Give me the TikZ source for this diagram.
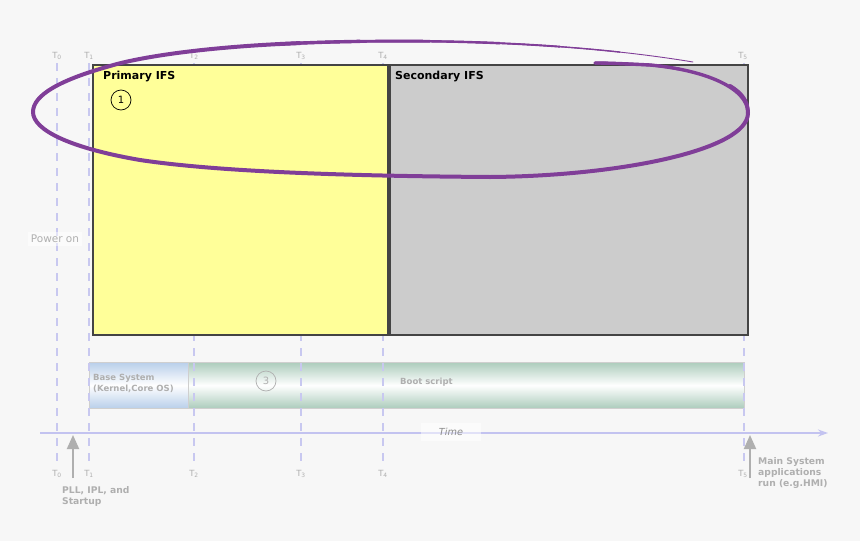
\documentclass[tikz,border=0pt]{standalone}
\usepackage{fontspec}
\setmainfont{DejaVu Sans}
\usetikzlibrary{arrows.meta}
\definecolor{bg}{RGB}{247,247,247}
\definecolor{dashc}{RGB}{200,200,240}
\definecolor{lbl}{RGB}{175,175,175}
\definecolor{ifsy}{RGB}{255,255,153}
\definecolor{ifsg}{RGB}{204,204,204}
\definecolor{boxb}{RGB}{68,68,68}
\definecolor{purp}{RGB}{128,62,152}
\definecolor{blueb}{RGB}{185,207,234}
\definecolor{greenb}{RGB}{172,204,188}
\definecolor{axisc}{RGB}{195,195,240}
\begin{document}
\begin{tikzpicture}[x=1pt,y=-1pt,
 tlabel/.style={text=lbl,font=\fontsize{8.5}{9}\selectfont,inner sep=0pt},
 tdash/.style={dashc,line width=1.6pt,dash pattern=on 8pt off 7pt},
 ifsbox/.style={draw=boxb,line width=1.8pt,anchor=north west,inner sep=0pt},
 ifstitle/.style={font=\bfseries\fontsize{11}{13}\selectfont,anchor=north west,inner sep=0pt},
 bartext/.style={text=lbl,font=\bfseries\fontsize{8.5}{11}\selectfont,align=left,inner sep=0pt},
 graytext/.style={text=lbl,font=\bfseries\fontsize{9.2}{11}\selectfont,align=left,inner sep=0pt},
 barbox/.style={draw=lbl!60,line width=0.6pt,anchor=north west,inner sep=0pt,minimum height=46pt},
 garrow/.style={lbl,line width=2pt,-{Triangle[length=14pt,width=12pt]}},
 numcirc/.style={circle,draw,line width=0.7pt,minimum size=20pt,inner sep=0pt,font=\fontsize{10}{11}\selectfont},
 softlabel/.style={fill=white,fill opacity=0.5,text opacity=1,inner sep=3pt},
 purpline/.style={purp,line cap=round,line join=round}]
\useasboundingbox[fill=bg] (0,0) rectangle (860,541);

% bottom bars
\node[barbox,top color=blueb,bottom color=blueb,middle color=white,minimum width=99pt] (base) at (89,362) {};
\node[barbox,top color=greenb,bottom color=greenb,middle color=white,minimum width=556pt] (boot) at (188,362) {};

% dashed time lines
\foreach \n/\x in {0/57,1/89,2/194,3/301,4/383,5/744}{
  \coordinate (t\n top) at (\x,63);
  \coordinate (t\n bot) at (\x,463);
  \draw[tdash] (t\n top) -- (t\n bot);
}

% timeline
\coordinate (axs) at (40,433);
\coordinate (axe) at (828,433);
\draw[axisc,line width=2pt,-{Stealth[length=10pt,width=7pt]}] (axs) -- (axe);

% IFS boxes
\node[ifsbox,fill=ifsy,minimum width=295pt,minimum height=270pt] (prim) at (92,64) {};
\node[ifsbox,fill=ifsg,minimum width=358pt,minimum height=270pt] (sec) at (389,64) {};
\node[ifstitle] (primt) at (103,71) {Primary IFS};
\node[ifstitle] (sect) at (395,71) {Secondary IFS};
\node[numcirc] (c1) at (121,100) {1};

% time labels
\foreach \n/\x in {0/57,1/89,2/194,3/301,4/383,5/743}{
  \node[tlabel] (lt\n) at (\x,56) {T\textsubscript{\n}};
  \node[tlabel] (lb\n) at (\x,474) {T\textsubscript{\n}};
}

% bar texts
\node[bartext,anchor=north west] (baset) at (93,374) {Base System\\(Kernel,Core OS)};
\node[bartext,anchor=west] (boott) at (400,382) {Boot script};
\node[numcirc,draw=lbl,text=lbl] (c3) at (266,381) {3};

% soft labels
\node[softlabel,text=lbl,font=\fontsize{10.5}{12}\selectfont] (pwr) at (55,239) {Power on};
\node[softlabel,text=lbl!80!black,font=\itshape\fontsize{9.7}{11}\selectfont,inner xsep=18pt,inner ysep=5pt] (time) at (451,432) {Time};

% arrows
\coordinate (pa) at (73,478);
\coordinate (pb) at (73,435);
\draw[garrow] (pa) -- (pb);
\node[graytext,anchor=north west] (pll) at (62,486) {PLL, IPL, and\\Startup};
\coordinate (ma) at (750,478);
\coordinate (mb) at (750,435);
\draw[garrow] (ma) -- (mb);
\node[graytext,anchor=north west] (mainl) at (758,457) {Main System\\applications\\run (e.g.HMI)};

% hand-drawn ellipse: tapering top stroke drawn in clipped bands
\foreach \xr/\w in {700/0.9,620/1.4,560/1.9,500/2.4,430/2.9,360/3.4,300/4}{
  \begin{scope}
    \clip (0,0) rectangle (\xr,300);
    \draw[purpline,line width=\w pt] (693,62) .. controls (560,40) and (400,38) .. (280,44);
  \end{scope}
}
\draw[purpline,line width=4pt] (280,44) .. controls (200,48) and (140,57) .. (110,66)
   .. controls (60,80) and (33,95) .. (33,112)
   .. controls (33,130) and (70,148) .. (140,160)
   .. controls (220,172) and (350,176) .. (490,177)
   .. controls (620,176) and (748,150) .. (748,113);
\foreach \xr/\w in {560/1.6,620/2.2,680/2.8,760/3.4}{
  \begin{scope}
    \clip (0,0) rectangle (\xr,300);
    \draw[purpline,line width=\w pt] (748,113) .. controls (748,88) and (705,70) .. (650,65)
       .. controls (630,64) and (610,63) .. (595,63);
  \end{scope}
}
\draw[purpline,line width=4pt] (748,113) .. controls (748,100) and (740,92) .. (730,86);
\end{tikzpicture}
\end{document}
